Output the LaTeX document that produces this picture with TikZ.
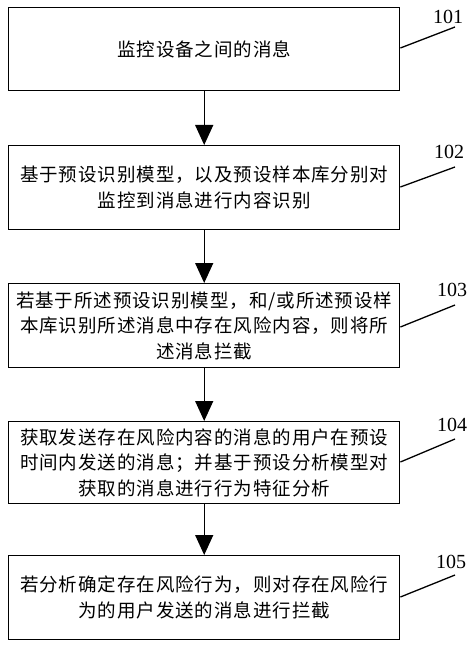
\documentclass[tikz,border=0pt]{standalone}
\usepackage{fontspec}
\setmainfont{Liberation Serif}
\newfontfamily\cjk[LetterSpace=5]{Noto Sans CJK SC}
\usetikzlibrary{arrows.meta,calc}
\begin{document}
\begin{tikzpicture}[x=1pt,y=-1pt,
  stepbox/.style={draw,line width=1.4pt,minimum width=391pt,anchor=north west,inner sep=0pt,
    align=center,font=\cjk\fontsize{18.5}{25.5}\selectfont},
  flow/.style={line width=1.3pt,-{Triangle[width=18pt,length=20pt]}},
  lead/.style={line width=1.3pt},
  numlab/.style={font=\fontsize{20}{20}\selectfont,inner sep=0pt}]
\useasboundingbox (0,0) rectangle (474,647);
\node[stepbox,minimum height=83pt] (b1) at (8,7) {监控设备之间的消息};
\node[stepbox,minimum height=84pt] (b2) at (8,145) {基于预设识别模型，以及预设样本库分别对\\监控到消息进行内容识别};
\node[stepbox,minimum height=84pt] (b3) at (8,283) {若基于所述预设识别模型，和/或所述预设样\\本库识别所述消息中存在风险内容，则将所\\述消息拦截};
\node[stepbox,minimum height=82pt] (b4) at (8,421) {获取发送存在风险内容的消息的用户在预设\\时间内发送的消息；并基于预设分析模型对\\获取的消息进行行为特征分析};
\node[stepbox,minimum height=84pt] (b5) at (8,555) {若分析确定存在风险行为，则对存在风险行\\为的用户发送的消息进行拦截};
\draw[flow] (b1.south) -- (b2.north);
\draw[flow] (b2.south) -- (b3.north);
\draw[flow] (b3.south) -- (b4.north);
\draw[flow] (b4.south) -- (b5.north);
\node[numlab] (n1) at (448,17) {101};
\node[numlab] (n2) at (449,152) {102};
\node[numlab] (n3) at (452,290) {103};
\node[numlab] (n4) at (452,425) {104};
\node[numlab] (n5) at (451,562) {105};
\coordinate (e1) at (455,27);
\coordinate (e2) at (455,167);
\coordinate (e3) at (455,305);
\coordinate (e4) at (455,439);
\coordinate (e5) at (455,575);
\draw[lead] (b1.east |- 0,48) -- (e1);
\draw[lead] (b2.east |- 0,187) -- (e2);
\draw[lead] (b3.east |- 0,327) -- (e3);
\draw[lead] (b4.east |- 0,462) -- (e4);
\draw[lead] (b5.east |- 0,597) -- (e5);
\end{tikzpicture}
\end{document}
